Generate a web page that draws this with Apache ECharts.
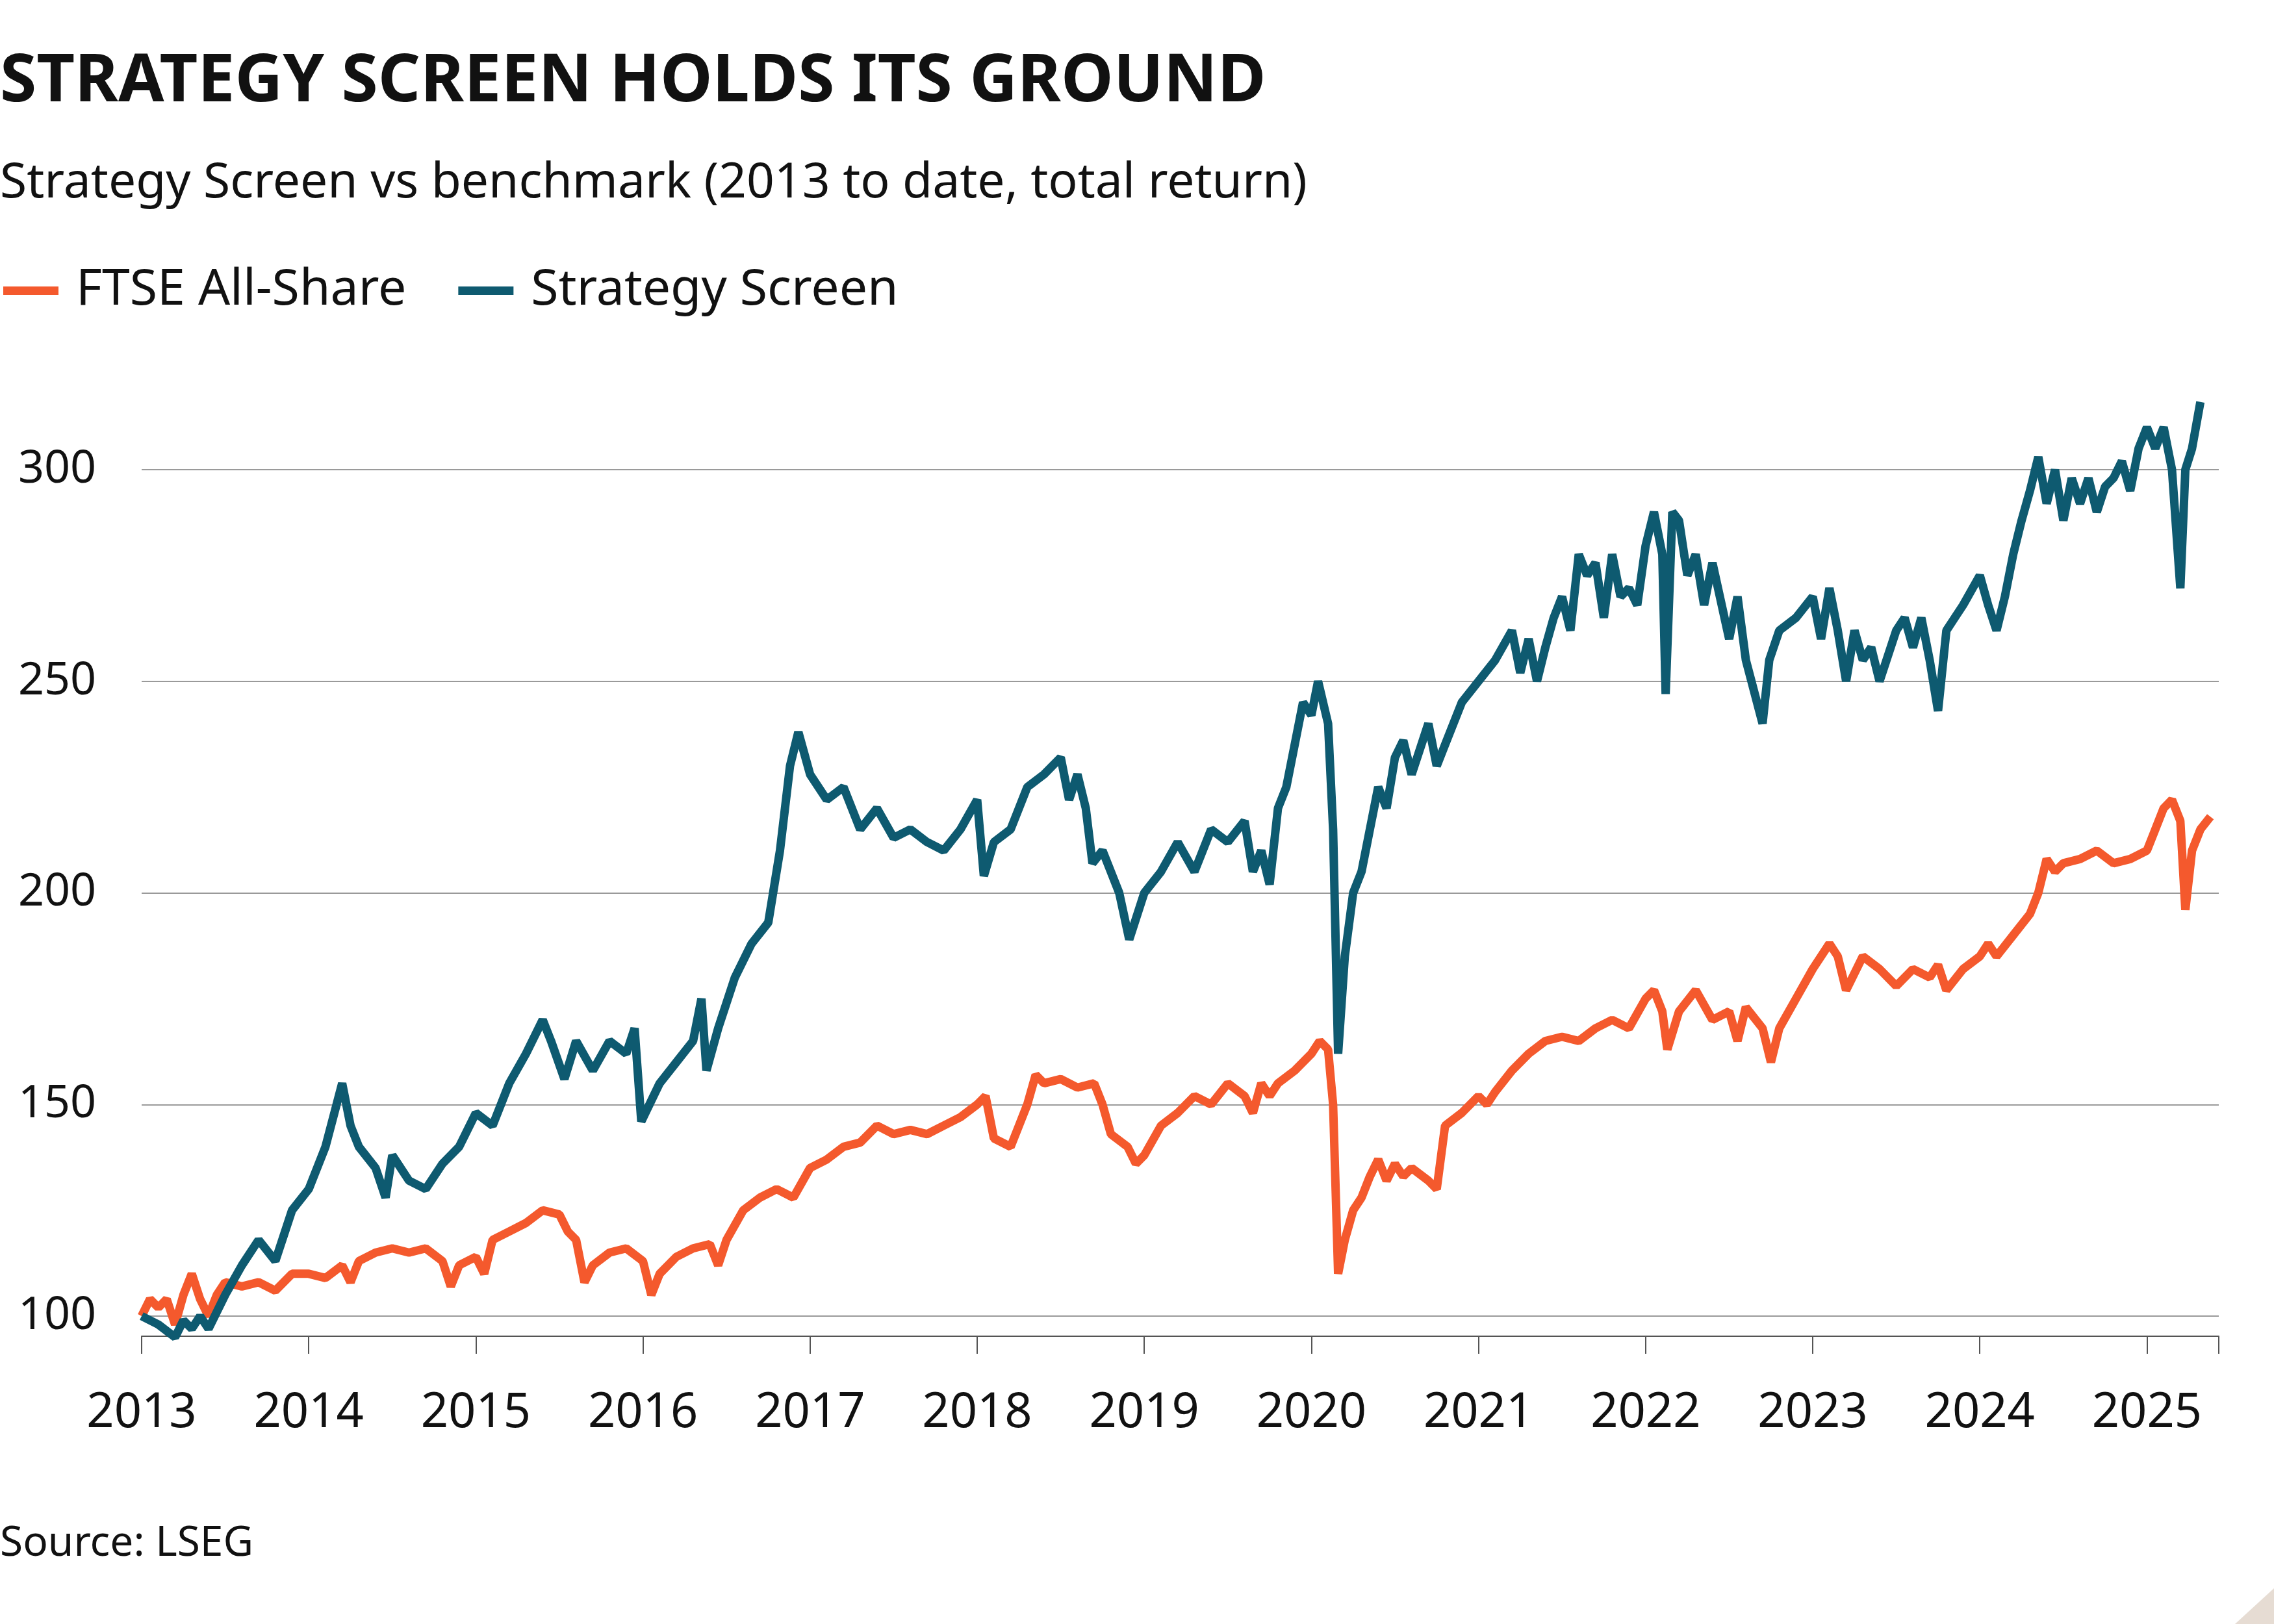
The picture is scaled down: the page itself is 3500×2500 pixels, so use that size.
<!DOCTYPE html>
<html>
<head>
<meta charset="utf-8">
<script src="https://cdn.jsdelivr.net/npm/echarts@6/dist/echarts.min.js"></script>
<style>html,body{margin:0;padding:0;background:#fff}#c{width:3500px;height:2500px}</style>
</head>
<body>
<div id="c"></div>
<script>
// Strategy Screen (decimal year, index value)
const screenT = [2013,2013.1,2013.2,2013.25,2013.3,2013.35,2013.4,2013.5,2013.6,2013.7,2013.8,2013.9,2014,2014.1,2014.2,2014.25,2014.3,2014.4,2014.46,2014.5,2014.6,2014.7,2014.8,2014.9,2015,2015.1,2015.2,2015.3,2015.4,2015.45,2015.53,2015.6,2015.7,2015.8,2015.9,2015.95,2015.99,2016.1,2016.2,2016.3,2016.35,2016.38,2016.45,2016.55,2016.65,2016.75,2016.82,2016.88,2016.93,2017,2017.1,2017.2,2017.3,2017.4,2017.5,2017.6,2017.7,2017.8,2017.9,2018,2018.04,2018.1,2018.2,2018.3,2018.4,2018.5,2018.55,2018.6,2018.65,2018.69,2018.75,2018.85,2018.91,2019,2019.1,2019.2,2019.3,2019.4,2019.5,2019.6,2019.65,2019.7,2019.75,2019.8,2019.85,2019.9,2019.95,2020,2020.04,2020.1,2020.13,2020.16,2020.2,2020.25,2020.3,2020.35,2020.4,2020.45,2020.5,2020.55,2020.6,2020.7,2020.75,2020.8,2020.9,2021,2021.1,2021.2,2021.25,2021.3,2021.35,2021.4,2021.45,2021.5,2021.55,2021.6,2021.65,2021.7,2021.75,2021.8,2021.85,2021.9,2021.95,2022,2022.05,2022.1,2022.12,2022.16,2022.2,2022.25,2022.3,2022.35,2022.4,2022.5,2022.55,2022.6,2022.7,2022.74,2022.8,2022.9,2023,2023.05,2023.1,2023.15,2023.2,2023.25,2023.3,2023.35,2023.4,2023.5,2023.55,2023.6,2023.65,2023.7,2023.75,2023.8,2023.85,2023.9,2024,2024.05,2024.1,2024.15,2024.2,2024.25,2024.3,2024.35,2024.4,2024.45,2024.5,2024.55,2024.6,2024.65,2024.7,2024.75,2024.8,2024.85,2024.9,2024.95,2025,2025.05,2025.1,2025.15,2025.2,2025.23,2025.27,2025.32,2025.38];
const screenV = [100,98,95,99,97,100,97,105,112,118,113,125,130,140,155,145,140,135,128,138,132,130,136,140,148,145,155,162,170,165,156,165,158,165,162,168,146,155,160,165,175,158,168,180,188,193,210,230,238,228,222,225,215,220,213,215,212,210,215,222,204,212,215,225,228,232,222,228,220,207,210,200,189,200,205,212,205,215,212,217,205,210,202,220,225,235,245,242,250,240,215,162,185,200,205,215,225,220,232,236,228,240,230,235,245,250,255,262,252,260,250,258,265,270,262,280,275,278,265,280,270,272,268,282,290,280,247,290,288,275,280,268,278,260,270,255,240,255,262,265,270,260,272,262,250,262,255,258,250,262,265,258,265,255,243,262,265,268,275,268,262,270,280,288,295,303,292,300,288,298,292,298,290,296,298,302,295,305,310,305,310,300,272,300,305,316];
// FTSE All-Share
const ftseT = [2013,2013.05,2013.1,2013.15,2013.2,2013.25,2013.3,2013.35,2013.4,2013.45,2013.5,2013.6,2013.7,2013.8,2013.9,2014,2014.1,2014.2,2014.25,2014.3,2014.4,2014.5,2014.6,2014.7,2014.8,2014.85,2014.9,2015,2015.05,2015.1,2015.2,2015.3,2015.4,2015.5,2015.55,2015.6,2015.65,2015.7,2015.8,2015.9,2016,2016.05,2016.1,2016.2,2016.3,2016.4,2016.45,2016.5,2016.6,2016.7,2016.8,2016.9,2017,2017.1,2017.2,2017.3,2017.4,2017.5,2017.6,2017.7,2017.8,2017.9,2018,2018.05,2018.1,2018.2,2018.25,2018.3,2018.35,2018.4,2018.5,2018.6,2018.7,2018.75,2018.8,2018.9,2018.95,2019,2019.1,2019.2,2019.3,2019.4,2019.5,2019.6,2019.65,2019.7,2019.75,2019.8,2019.9,2020,2020.05,2020.1,2020.13,2020.16,2020.2,2020.25,2020.3,2020.35,2020.4,2020.45,2020.5,2020.55,2020.6,2020.7,2020.75,2020.8,2020.9,2021,2021.05,2021.1,2021.2,2021.3,2021.4,2021.5,2021.6,2021.7,2021.8,2021.9,2022,2022.05,2022.1,2022.13,2022.2,2022.3,2022.4,2022.5,2022.55,2022.6,2022.7,2022.75,2022.8,2022.9,2023,2023.1,2023.15,2023.2,2023.3,2023.4,2023.5,2023.6,2023.7,2023.75,2023.8,2023.9,2024,2024.05,2024.1,2024.2,2024.3,2024.35,2024.4,2024.45,2024.5,2024.6,2024.7,2024.8,2024.9,2025,2025.05,2025.1,2025.15,2025.2,2025.23,2025.27,2025.32,2025.38];
const ftseV = [100,104,102,104,98,105,110,104,100,105,108,107,108,106,110,110,109,112,108,113,115,116,115,116,113,107,112,114,110,118,120,122,125,124,120,118,108,112,115,116,113,105,110,114,116,117,112,118,125,128,130,128,135,137,140,141,145,143,144,143,145,147,150,152,142,140,145,150,157,155,156,154,155,150,143,140,136,138,145,148,152,150,155,152,148,155,152,155,158,162,165,163,150,110,118,125,128,133,137,132,136,133,135,132,130,145,148,152,150,153,158,162,165,166,165,168,170,168,175,177,172,163,172,177,170,172,165,173,168,160,168,175,182,188,185,177,185,182,178,182,180,183,177,182,185,188,185,190,195,200,208,205,207,208,210,207,208,210,215,220,222,217,196,210,215,218];
const yearTicks = [2013,2014,2015,2016,2017,2018,2019,2020,2021,2022,2023,2024,2025];

const font = "Noto Sans";
const orange = "#f4592d", teal = "#0e5a70";
const pairs = (t, v) => t.map((x, i) => [x, v[i]]);

const chart = echarts.init(document.getElementById("c"));
chart.setOption({
  backgroundColor: "#fff",
  animation: false,
  textStyle: { fontFamily: font },
  graphic: [
    { type: "text", left: 0, top: 76, style: { text: "STRATEGY SCREEN HOLDS ITS GROUND", font: "bold 102px " + font, fill: "#111" } },
    { type: "text", left: 0, top: 245, style: { text: "Strategy Screen vs benchmark (2013 to date, total return)", font: "75px " + font, fill: "#111" } },
    { type: "text", left: 0, top: 2345, style: { text: "Source: LSEG", font: "64px " + font, fill: "#111" } },
    { type: "polygon", shape: { points: [[3500, 2445], [3500, 2500], [3440, 2500]] }, style: { fill: "#e6dcd3" } }
  ],
  legend: {
    left: 0, top: 404, itemWidth: 85, itemHeight: 13, itemGap: 80,
    icon: "rect",
    textStyle: { fontSize: 77, color: "#111", padding: [0, 0, 0, 22] },
    data: ["FTSE All-Share", "Strategy Screen"]
  },
  grid: { left: 218, right: 85, top: 723, bottom: 474 },
  xAxis: {
    type: "value", min: 2013, max: 2025.43, interval: 1, offset: 31,
    axisLine: { lineStyle: { color: "#555", width: 2 } },
    axisTick: { show: true, length: 27, lineStyle: { color: "#555", width: 2 } },
    axisLabel: { fontSize: 74, color: "#111", margin: 82, formatter: v => yearTicks.includes(v) ? String(v) : "" },
    splitLine: { show: false }
  },
  yAxis: {
    type: "value", min: 100, max: 300, interval: 50,
    axisLine: { show: false }, axisTick: { show: false },
    axisLabel: { fontSize: 70, color: "#111", margin: 190, align: "left" },
    splitLine: { lineStyle: { color: "#9a9a9a", width: 2 } }
  },
  series: [
    { name: "FTSE All-Share", type: "line", data: pairs(ftseT, ftseV), showSymbol: false, clip: false,
      color: orange, lineStyle: { width: 13, color: orange } },
    { name: "Strategy Screen", type: "line", data: pairs(screenT, screenV), showSymbol: false, clip: false,
      color: teal, lineStyle: { width: 13, color: teal } }
  ]
});
</script>
</body>
</html>
